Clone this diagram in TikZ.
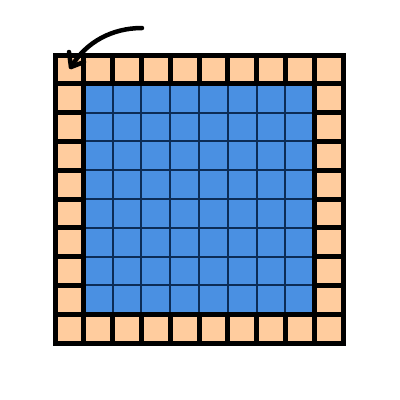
\documentclass[tikz,border=0pt]{standalone}
\definecolor{peach}{RGB}{255,204,158}
\definecolor{gblue}{RGB}{74,144,226}
\definecolor{navy}{RGB}{12,44,86}
\begin{document}
\begin{tikzpicture}[x=1pt,y=-1pt,
  thick line/.style={line width=5pt,black},
  thin line/.style={line width=2pt,navy},
  arrowline/.style={line width=4.5pt,black,line cap=round,line join=round}]
\useasboundingbox (0,0) rectangle (400,400);
\fill[white] (0,0) rectangle (400,400);
\fill[peach] (55,55) rectangle (343,343);
\fill[gblue] (83.8,83.8) rectangle (314.2,314.2);
\foreach \k in {2,...,8}{
  \draw[thin line] ({55+\k*28.8},83.8) -- ({55+\k*28.8},314.2);
  \draw[thin line] (83.8,{55+\k*28.8}) -- (314.2,{55+\k*28.8});
}
\foreach \k in {1,...,9}{
  \draw[thick line] ({55+\k*28.8},55) -- ({55+\k*28.8},83.8);
  \draw[thick line] ({55+\k*28.8},314.2) -- ({55+\k*28.8},343);
  \draw[thick line] (55,{55+\k*28.8}) -- (83.8,{55+\k*28.8});
  \draw[thick line] (314.2,{55+\k*28.8}) -- (343,{55+\k*28.8});
}
\draw[thick line] (83.8,83.8) rectangle (314.2,314.2);
\draw[thick line] (55,55) rectangle (343,343);
\coordinate (s) at (142,28);
\coordinate (t) at (71,67);
\coordinate (w1) at (69,52);
\coordinate (w2) at (84,62);
\draw[arrowline] (s) .. controls (112,28) and (86,42) .. (t);
\draw[arrowline] (w1) -- (t) -- (w2);
\end{tikzpicture}
\end{document}
